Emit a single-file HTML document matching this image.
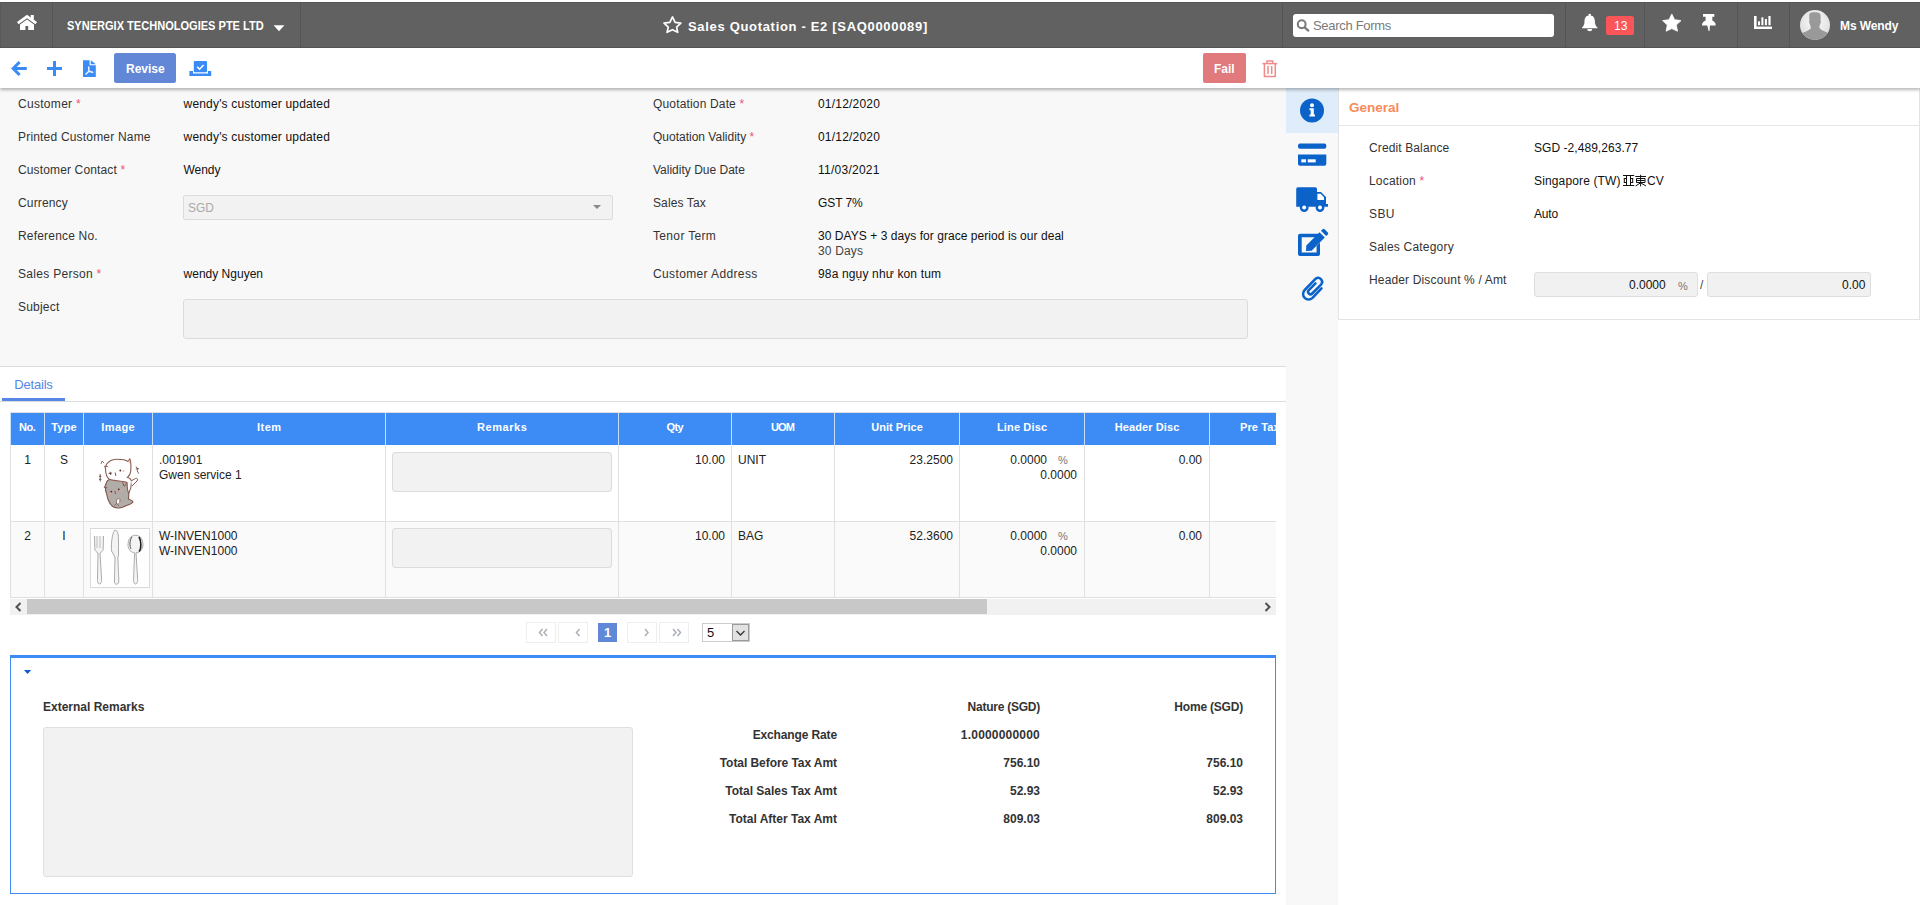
<!DOCTYPE html>
<html><head><meta charset="utf-8">
<style>
*{box-sizing:border-box;margin:0;padding:0}
html,body{width:1920px;height:905px;overflow:hidden;background:#fff;font-family:"Liberation Sans",sans-serif;font-size:12px;color:#222}
.a{position:absolute}
.t{position:absolute;white-space:nowrap;line-height:14px}
#top{position:absolute;left:0;top:2px;width:1920px;height:46px;background:#616161;border-top:1px solid #555;border-bottom:1px solid #555;border-left:1px solid #595959}
.sep{position:absolute;top:0;width:1px;height:45px;background:#545454}
#tb{position:absolute;left:0;top:48px;width:1920px;height:40px;background:#fff;box-shadow:0 2px 3px rgba(0,0,0,.28);z-index:2}
#form{position:absolute;left:0;top:88px;width:1286px;height:279px;background:#f8f8f8;border-bottom:1px solid #ddd}
.lbl{position:absolute;white-space:nowrap;color:#333;line-height:14px}
.val{position:absolute;white-space:nowrap;color:#111;line-height:14px}
.req{color:#f0527a}
#side{position:absolute;left:1286px;top:88px;width:52px;height:817px;background:#f8f8f8}
#rp{position:absolute;left:1338px;top:88px;width:582px;height:232px;background:#fff;border:1px solid #e3e3e3;border-top:none}
.th{position:absolute;top:413px;height:32px;background:#3d8cf5;color:#fff;font-weight:bold;text-align:center;line-height:28px;border-right:1px solid #8dbbf7}
.vl{position:absolute;width:1px;background:#e0e0e0}
.hl{position:absolute;height:1px;background:#e0e0e0}
.b{font-weight:bold;color:#333}
</style></head><body>

<!-- TOP BAR -->
<div id="top">
  <div class="sep" style="left:51px"></div>
  <div class="sep" style="left:299px"></div>
  <div class="sep" style="left:1281px"></div>
  <div class="sep" style="left:1564px"></div>
  <div class="sep" style="left:1643px"></div>
  <div class="sep" style="left:1736px"></div>
  <div class="sep" style="left:1788px"></div>
</div>
<svg class="a" style="left:0;top:0" width="1920" height="48" viewBox="0 0 1920 48">
  <!-- home -->
  <g fill="#fff">
    <path d="M17 22 L27 14.8 L37 22 L35.4 24.2 L27 18.3 L18.6 24.2 Z"/>
    <rect x="30.7" y="15" width="3.1" height="4.6"/>
    <path d="M20 24.6 L27 19.5 L34 24.6 L34 30 L28.2 30 L28.2 26 L25.4 26 L25.4 30 L20 30 Z"/>
  </g>
  <!-- caret -->
  <path d="M273.6 25.2 L284.4 25.2 L279 31.2 Z" fill="#fff"/>
  <!-- star outline -->
  <path d="M672.5 16.9 L675.1 22.3 L680.8 23.1 L676.6 27.1 L677.7 32.3 L672.5 29.7 L667.1 32.3 L668.3 27.1 L664 23.1 L669.8 22.3 Z" fill="none" stroke="#fff" stroke-width="1.7" stroke-linejoin="round"/>
  <!-- search box -->
  <rect x="1293" y="14" width="261" height="23" rx="3" fill="#fff"/>
  <circle cx="1301.7" cy="24.2" r="3.9" fill="none" stroke="#7c7c7c" stroke-width="2.1"/>
  <path d="M1304.9 27.6 L1308.3 30.6" stroke="#7c7c7c" stroke-width="2.3" stroke-linecap="round"/>
  <!-- bell -->
  <g fill="#fff">
    <circle cx="1589.7" cy="15" r="1.3"/>
    <path d="M1589.7 15.4 C1585 15.4 1584.5 19 1584.5 22 C1584.5 25 1583 26.5 1582 27.6 L1582 28.3 L1597.5 28.3 L1597.5 27.6 C1596.4 26.5 1594.9 25 1594.9 22 C1594.9 19 1594.4 15.4 1589.7 15.4 Z"/>
    <path d="M1587.2 29.1 L1592.2 29.1 C1592.2 30.5 1591 31.3 1589.7 31.3 C1588.4 31.3 1587.2 30.5 1587.2 29.1 Z"/>
  </g>
  <rect x="1606" y="16" width="28" height="19" rx="2.5" fill="#fa5558"/>
  <!-- star solid -->
  <path d="M1671.8 14 L1674.6 19.7 L1681 20.6 L1676.3 25 L1677.5 31.2 L1671.8 28.6 L1666.1 31.2 L1667.3 25 L1662.6 20.6 L1669 19.7 Z" fill="#fff" stroke="#fff" stroke-width="0.8" stroke-linejoin="round"/>
  <!-- pin -->
  <path d="M1703 14 L1714.3 14 L1714.3 16.7 L1712.3 16.7 L1712.3 20.5 C1714 21.5 1715.7 22.5 1715.7 25.5 L1709.9 25.5 L1709.6 31 L1708.6 31 L1707.3 25.5 L1702 25.5 C1702 22.5 1703.7 21.5 1705.6 20.5 L1705.6 16.7 L1703 16.7 Z" fill="#fff"/>
  <!-- chart -->
  <g fill="#fff">
    <rect x="1754" y="16" width="2.6" height="13"/>
    <rect x="1754" y="26.6" width="18" height="2.4"/>
    <rect x="1758" y="21.3" width="2" height="3.9"/>
    <rect x="1761.4" y="17.3" width="2" height="7.9"/>
    <rect x="1764.9" y="19" width="2" height="6.2"/>
    <rect x="1768.4" y="16" width="2.2" height="9.2"/>
  </g>
  <!-- avatar -->
  <defs>
    <radialGradient id="avg" cx="0.5" cy="0.4" r="0.6"><stop offset="0" stop-color="#fafafa"/><stop offset="1" stop-color="#dedede"/></radialGradient>
    <clipPath id="avc"><circle cx="1815" cy="25" r="15"/></clipPath>
  </defs>
  <circle cx="1815" cy="25" r="15" fill="url(#avg)"/>
  <g clip-path="url(#avc)" fill="#999">
    <path d="M1809.2 14.5 C1810 12.2 1813 12.2 1815 12.2 C1818.5 12.2 1820.6 13 1820.6 16 L1820.6 21 C1821.2 21.5 1821 22.5 1820.5 23 C1819.8 25 1819.3 26.5 1819.3 27.5 C1821 30.6 1825 31.5 1827.5 32.8 L1831 40 L1799 40 L1802.5 32.8 C1805.5 31.5 1809 30.5 1810.8 28.2 C1810.8 26.5 1810.2 25 1809.5 23 C1809 22.5 1808.8 21.5 1809.4 21 Z"/>
  </g>
</svg>
<div class="t" style="left:67px;top:19px;color:#fff;font-weight:bold;font-size:12px;transform-origin:0 0;transform:scaleX(0.92)">SYNERGIX TECHNOLOGIES PTE LTD</div>
<div class="t" style="left:688px;top:19px;color:#fff;font-weight:bold;font-size:13px;line-height:16px;letter-spacing:0.68px">Sales Quotation - E2 [SAQ0000089]</div>
<div class="t" style="left:1313px;top:18px;color:#7a7a7a;font-size:13px;line-height:15px;letter-spacing:-0.3px">Search Forms</div>
<div class="t" style="left:1614px;top:18.5px;color:#fff;font-size:12px">13</div>
<div class="t" style="letter-spacing:-0.1px;left:1840px;top:19px;color:#fff;font-weight:bold;font-size:12px">Ms Wendy</div>

<!-- TOOLBAR -->
<div id="tb">
<svg class="a" style="left:0;top:0" width="1920" height="40" viewBox="0 48 1920 40">
  <g stroke="#3b8bf6" stroke-width="3" fill="none">
    <path d="M19.6 62 L13.2 68.5 L19.6 75"/>
    <path d="M13.5 68.5 L26.8 68.5"/>
    <path d="M54.5 61 L54.5 76 M47 68.5 L62 68.5"/>
  </g>
  <!-- pdf -->
  <path d="M83 60.2 L89.6 60.2 L89.6 65.2 L95.8 65.2 L95.8 77 L83 77 Z" fill="#3b8bf6"/>
  <path d="M90.8 60.2 L95.8 64.2 L90.8 64.2 Z" fill="#3b8bf6"/>
  <path d="M88.7 66.5 L88.9 71.2 M88.9 71.2 L85.5 74.5 M88.9 71.2 L93.3 72.5" stroke="#eef3ff" stroke-width="1.5" fill="none"/>
  <!-- revise -->
  <rect x="114" y="53" width="62" height="30" rx="2.5" fill="#6287d6"/>
  <!-- tray check -->
  <rect x="193.8" y="61" width="13.2" height="11.3" rx="1" fill="#3b8bf6"/>
  <path d="M197.2 66.8 L199.6 69.2 L203.6 65" stroke="#fff" stroke-width="1.6" fill="none"/>
  <path d="M189.4 71 L193 71 L193 73.4 L208 73.4 L208 71 L211.2 71 L211.2 76 L189.4 76 Z" fill="#3b8bf6"/>
  <!-- fail -->
  <rect x="1203" y="53" width="43" height="30" rx="2" fill="#e07a7d"/>
  <!-- trash -->
  <g fill="none" stroke="#f08a8a" stroke-width="1.5">
    <path d="M1262.5 63.6 L1277.2 63.6"/>
    <path d="M1267 63.3 L1267 61 L1272.7 61 L1272.7 63.3"/>
    <path d="M1264.4 64 L1264.4 76.4 L1275.3 76.4 L1275.3 64"/>
    <path d="M1268 66 L1268 74 M1271.7 66 L1271.7 74"/>
  </g>
</svg>
<div class="t" style="left:126px;top:14px;color:#fff;font-weight:bold;font-size:12px;line-height:15px">Revise</div>
<div class="t" style="left:1214px;top:14px;color:#fff;font-weight:bold;font-size:12px">Fail</div>
</div>


<!-- FORM -->
<div id="form"></div>
<div class="lbl" style="letter-spacing:0.3px;left:18px;top:97px">Customer <span class="req">*</span></div>
<div class="val" style="letter-spacing:0.17px;left:183.6px;top:97px">wendy's customer updated</div>
<div class="lbl" style="letter-spacing:0.19px;left:18px;top:130px">Printed Customer Name</div>
<div class="val" style="letter-spacing:0.17px;left:183.6px;top:130px">wendy's customer updated</div>
<div class="lbl" style="letter-spacing:0.14px;left:18px;top:163px">Customer Contact <span class="req">*</span></div>
<div class="val" style="letter-spacing:-0.08px;left:183.6px;top:163px">Wendy</div>
<div class="lbl" style="letter-spacing:0.15px;left:18px;top:196px">Currency</div>
<div class="a" style="left:183px;top:195px;width:430px;height:25px;background:#f2f2f2;border:1px solid #dcdcdc;border-radius:2px"></div>
<div class="t" style="left:188px;top:201px;color:#aaa">SGD</div>
<svg class="a" style="left:592px;top:204px" width="10" height="6"><path d="M1 1 L9 1 L5 5 Z" fill="#888"/></svg>
<div class="lbl" style="letter-spacing:0.19px;left:18px;top:229px">Reference No.</div>
<div class="lbl" style="letter-spacing:0.3px;left:18px;top:267px">Sales Person <span class="req">*</span></div>
<div class="val" style="left:183.6px;top:267px">wendy Nguyen</div>
<div class="lbl" style="letter-spacing:0.2px;left:18px;top:300px">Subject</div>
<div class="a" style="left:183px;top:299px;width:1065px;height:40px;background:#f2f2f2;border:1px solid #dcdcdc;border-radius:3px"></div>
<div class="lbl" style="letter-spacing:0.16px;left:653px;top:97px">Quotation Date <span class="req">*</span></div>
<div class="val" style="letter-spacing:0.2px;left:818px;top:97px">01/12/2020</div>
<div class="lbl" style="left:653px;top:130px">Quotation Validity <span class="req">*</span></div>
<div class="val" style="letter-spacing:0.2px;left:818px;top:130px">01/12/2020</div>
<div class="lbl" style="left:653px;top:163px">Validity Due Date</div>
<div class="val" style="letter-spacing:0.25px;left:818px;top:163px">11/03/2021</div>
<div class="lbl" style="letter-spacing:0.12px;left:653px;top:196px">Sales Tax</div>
<div class="val" style="letter-spacing:-0.1px;left:818px;top:196px">GST 7%</div>
<div class="lbl" style="letter-spacing:0.34px;left:653px;top:229px">Tenor Term</div>
<div class="val" style="letter-spacing:0.05px;left:818px;top:229px">30 DAYS + 3 days for grace period is our deal</div>
<div class="val" style="letter-spacing:0.15px;left:818px;top:244px;color:#444">30 Days</div>
<div class="lbl" style="letter-spacing:0.37px;left:653px;top:267px">Customer Address</div>
<div class="val" style="letter-spacing:0.15px;left:818px;top:267px">98a ngụy như kon tum</div>

<!-- RIGHT SIDEBAR -->
<div id="side"></div>
<div class="a" style="left:1286px;top:88px;width:52px;height:45px;background:#dfecf9"></div>
<svg class="a" style="left:1286px;top:88px" width="52" height="230" viewBox="1286 88 52 230">
  <g fill="#0b62c9">
    <circle cx="1312" cy="110.6" r="12"/>
    <rect x="1298" y="143.4" width="28.3" height="5.3" rx="2"/>
    <path d="M1298 154.5 L1326.3 154.5 L1326.3 163.8 Q1326.3 165.8 1324.3 165.8 L1300 165.8 Q1298 165.8 1298 163.8 Z"/>
    <path d="M1296.2 189 Q1296.2 187.2 1298 187.2 L1315.3 187.2 Q1317 187.2 1317 189 L1317 192 L1321 192 L1326 197 L1326 204 L1328 204 L1328 206.7 L1296.2 206.7 Z"/>
    <circle cx="1304.2" cy="207.6" r="4.4"/>
    <circle cx="1320" cy="207.6" r="4.4"/>
    <path d="M1301.7 233.8 L1319 233.8 L1315.7 237.2 L1301.7 237.2 L1301.7 252.6 L1316.6 252.6 L1316.6 246 L1320 242.6 L1320 254 Q1320 256 1318 256 L1300 256 Q1298 256 1298 254 L1298 235.8 Q1298 233.8 1300 233.8 Z"/>
    <path d="M1306 251 L1306.3 245.5 L1319.5 232.3 L1324.8 237.6 L1311.6 250.8 Z"/>
    <path d="M1321 230.8 L1322.6 229.2 Q1323.6 228.2 1324.6 229.2 L1327.8 232.4 Q1328.8 233.4 1327.8 234.4 L1326.2 236 Z"/>
  </g>
  <g fill="#fff">
    <circle cx="1312" cy="105.3" r="2"/>
    <path d="M1309.5 108.2 L1313.8 108.2 L1313.8 114.5 L1315 114.5 L1315 116.5 L1309.5 116.5 L1309.5 114.5 L1310.7 114.5 L1310.7 110.2 L1309.5 110.2 Z"/>
    <rect x="1301.3" y="159.3" width="4.7" height="3.1"/>
    <rect x="1307.7" y="159.3" width="8" height="3.1"/>
    <path d="M1317.4 193.8 L1320.6 193.8 L1324 197.2 L1324 200 L1317.4 200 Z"/>
    <circle cx="1304.2" cy="207.6" r="2"/>
    <circle cx="1320" cy="207.6" r="2"/>
  </g>
  <path d="M1321.5 288.3 L1312.5 297.8 A5.5 5.5 0 0 1 1304.7 290 L1315.7 278.7 A4 4 0 0 1 1321.3 284.3 L1312.2 293.5 A2.37 2.37 0 0 1 1308.8 290.1 L1315.5 283.4" fill="none" stroke="#0b62c9" stroke-width="2.5" stroke-linecap="round" stroke-linejoin="round"/>
</svg>

<!-- RIGHT PANEL -->
<div id="rp"></div>
<div class="a" style="left:1339px;top:125px;width:581px;height:1px;background:#e6e6e6"></div>
<div class="t" style="left:1349px;top:99.5px;color:#f98b5b;font-weight:bold;font-size:13.5px;line-height:16px">General</div>
<div class="lbl" style="letter-spacing:0.12px;left:1369px;top:141px">Credit Balance</div>
<div class="val" style="letter-spacing:0.05px;left:1534px;top:141px">SGD -2,489,263.77</div>
<div class="lbl" style="letter-spacing:0.19px;left:1369px;top:174px">Location <span class="req">*</span></div>
<div class="val" style="left:1534px;top:174px;letter-spacing:0.14px">Singapore (TW)</div>
<svg class="a" style="left:1622px;top:174px" width="26" height="13" viewBox="1622 174 26 13"><g stroke="#111" stroke-width="1" fill="none">
<path d="M1623 175.5 H1634.2 M1623 185.5 H1634.2 M1626.5 175.8 V185.2 M1630.5 175.8 V185.2 M1623.8 178.5 H1626.3 M1624.3 178.5 V182.5 M1623.8 182.5 H1626.3 M1630.7 178.5 H1633.2 M1632.7 178.5 V182.5 M1630.7 182.5 H1633.2"/>
<path d="M1635.3 176.5 H1646 M1640.6 174.8 V186.3 M1636.5 178.5 H1645 V182.5 H1636.5 Z M1636.8 180.5 H1644.7 M1640.3 183 L1635.6 186 M1641 183 L1646 186"/>
</g></svg>
<div class="val" style="left:1647px;top:174px">CV</div>
<div class="lbl" style="letter-spacing:0.4px;left:1369px;top:207px">SBU</div>
<div class="val" style="letter-spacing:-0.2px;left:1534px;top:207px">Auto</div>
<div class="lbl" style="letter-spacing:0.2px;left:1369px;top:240px">Sales Category</div>
<div class="lbl" style="letter-spacing:0.15px;left:1369px;top:273px">Header Discount % / Amt</div>
<div class="a" style="left:1534px;top:272px;width:164px;height:25px;background:#f1f1f1;border:1px solid #dedede;border-radius:3px"></div>
<div class="a" style="left:1707px;top:272px;width:164px;height:25px;background:#f1f1f1;border:1px solid #dedede;border-radius:3px"></div>
<div class="val" style="left:1629px;top:278px">0.0000</div>
<div class="t" style="left:1678px;top:279px;color:#777;font-size:11px">%</div>
<div class="val" style="left:1700px;top:278px;color:#444">/</div>
<div class="val" style="left:1842px;top:278px">0.00</div>


<!-- DETAILS TAB -->
<div class="t" style="letter-spacing:-0.2px;left:14.3px;top:377px;color:#5686e8;font-size:13px;line-height:15px">Details</div>
<div class="a" style="left:0;top:401px;width:1286px;height:1px;background:#dcdcdc"></div>
<div class="a" style="left:2px;top:398px;width:63px;height:3px;background:#5787e6"></div>

<!-- TABLE -->
<div class="a" style="left:10px;top:412px;width:1266px;height:186px;overflow:hidden">

<div class="a" style="left:0;top:0;width:1330px;height:1px;background:#e0e0e0"></div>
<div class="a" style="left:1px;top:1px;width:1330px;height:32px;background:#3d8cf5"></div>
<div class="a" style="left:1px;top:33px;width:1330px;height:76px;background:#fff"></div>
<div class="a" style="left:1px;top:110px;width:1330px;height:75px;background:#fafafa"></div>
<div class="a" style="left:0;top:109px;width:1330px;height:1px;background:#e0e0e0"></div>
<div class="a" style="left:0;top:185px;width:1330px;height:1px;background:#e0e0e0"></div>
<div class="a" style="left:0px;top:1px;width:1px;height:32px;background:#c9dffc"></div>
<div class="a" style="left:0px;top:33px;width:1px;height:153px;background:#e0e0e0"></div>
<div class="a" style="left:34px;top:1px;width:1px;height:32px;background:#c9dffc"></div>
<div class="a" style="left:34px;top:33px;width:1px;height:153px;background:#e0e0e0"></div>
<div class="a" style="left:73px;top:1px;width:1px;height:32px;background:#c9dffc"></div>
<div class="a" style="left:73px;top:33px;width:1px;height:153px;background:#e0e0e0"></div>
<div class="a" style="left:142px;top:1px;width:1px;height:32px;background:#c9dffc"></div>
<div class="a" style="left:142px;top:33px;width:1px;height:153px;background:#e0e0e0"></div>
<div class="a" style="left:375px;top:1px;width:1px;height:32px;background:#c9dffc"></div>
<div class="a" style="left:375px;top:33px;width:1px;height:153px;background:#e0e0e0"></div>
<div class="a" style="left:608px;top:1px;width:1px;height:32px;background:#c9dffc"></div>
<div class="a" style="left:608px;top:33px;width:1px;height:153px;background:#e0e0e0"></div>
<div class="a" style="left:721px;top:1px;width:1px;height:32px;background:#c9dffc"></div>
<div class="a" style="left:721px;top:33px;width:1px;height:153px;background:#e0e0e0"></div>
<div class="a" style="left:824px;top:1px;width:1px;height:32px;background:#c9dffc"></div>
<div class="a" style="left:824px;top:33px;width:1px;height:153px;background:#e0e0e0"></div>
<div class="a" style="left:949px;top:1px;width:1px;height:32px;background:#c9dffc"></div>
<div class="a" style="left:949px;top:33px;width:1px;height:153px;background:#e0e0e0"></div>
<div class="a" style="left:1074px;top:1px;width:1px;height:32px;background:#c9dffc"></div>
<div class="a" style="left:1074px;top:33px;width:1px;height:153px;background:#e0e0e0"></div>
<div class="a" style="left:1199px;top:1px;width:1px;height:32px;background:#c9dffc"></div>
<div class="a" style="left:1199px;top:33px;width:1px;height:153px;background:#e0e0e0"></div>
<div class="a" style="left:1324px;top:1px;width:1px;height:32px;background:#c9dffc"></div>
<div class="a" style="left:1324px;top:33px;width:1px;height:153px;background:#e0e0e0"></div>
<div class="t" style="left:1px;top:8px;width:33px;text-align:center;color:#fff;font-weight:bold;font-size:11px;letter-spacing:-0.43px;text-indent:-0.43px">No.</div>
<div class="t" style="left:35px;top:8px;width:38px;text-align:center;color:#fff;font-weight:bold;font-size:11px;letter-spacing:0.19px;text-indent:0.19px">Type</div>
<div class="t" style="left:74px;top:8px;width:68px;text-align:center;color:#fff;font-weight:bold;font-size:11px;letter-spacing:0.4px;text-indent:0.4px">Image</div>
<div class="t" style="left:143px;top:8px;width:232px;text-align:center;color:#fff;font-weight:bold;font-size:11px;letter-spacing:0.48px;text-indent:0.48px">Item</div>
<div class="t" style="left:376px;top:8px;width:232px;text-align:center;color:#fff;font-weight:bold;font-size:11px;letter-spacing:0.55px;text-indent:0.55px">Remarks</div>
<div class="t" style="left:609px;top:8px;width:112px;text-align:center;color:#fff;font-weight:bold;font-size:11px;letter-spacing:-0.66px;text-indent:-0.66px">Qty</div>
<div class="t" style="left:722px;top:8px;width:102px;text-align:center;color:#fff;font-weight:bold;font-size:11px;letter-spacing:-0.9px;text-indent:-0.9px">UOM</div>
<div class="t" style="left:825px;top:8px;width:124px;text-align:center;color:#fff;font-weight:bold;font-size:11px;letter-spacing:0.02px;text-indent:0.02px">Unit Price</div>
<div class="t" style="left:950px;top:8px;width:124px;text-align:center;color:#fff;font-weight:bold;font-size:11px;letter-spacing:0.16px;text-indent:0.16px">Line Disc</div>
<div class="t" style="left:1075px;top:8px;width:124px;text-align:center;color:#fff;font-weight:bold;font-size:11px;letter-spacing:0.1px;text-indent:0.1px">Header Disc</div>
<div class="t" style="left:1200px;top:8px;width:124px;text-align:center;color:#fff;font-weight:bold;font-size:11px;letter-spacing:0.1px;text-indent:0.1px">Pre Tax Amt</div>
<div class="t" style="left:1px;width:33px;text-align:center;top:41px">1</div>
<div class="t" style="left:35px;width:38px;text-align:center;top:41px">S</div>
<div class="t" style="left:149px;top:41px;">.001901</div>
<div class="t" style="left:149px;top:56px;">Gwen service 1</div>
<div class="t" style="right:551px;top:41px;">10.00</div>
<div class="t" style="left:728px;top:41px;">UNIT</div>
<div class="t" style="right:323px;top:41px;">23.2500</div>
<div class="t" style="right:229px;top:41px;">0.0000</div>
<div class="t" style="left:1048px;top:41px;color:#777;font-size:11px">%</div>
<div class="t" style="right:199px;top:56px;">0.0000</div>
<div class="t" style="right:74px;top:41px;">0.00</div>
<div class="a" style="left:382px;top:40px;width:220px;height:40px;background:#f2f2f2;border:1px solid #dcdcdc;border-radius:3px"></div>
<div class="t" style="left:1px;width:33px;text-align:center;top:117px">2</div>
<div class="t" style="left:35px;width:38px;text-align:center;top:117px">I</div>
<div class="t" style="left:149px;top:117px;">W-INVEN1000</div>
<div class="t" style="left:149px;top:132px;">W-INVEN1000</div>
<div class="t" style="right:551px;top:117px;">10.00</div>
<div class="t" style="left:728px;top:117px;">BAG</div>
<div class="t" style="right:323px;top:117px;">52.3600</div>
<div class="t" style="right:229px;top:117px;">0.0000</div>
<div class="t" style="left:1048px;top:117px;color:#777;font-size:11px">%</div>
<div class="t" style="right:199px;top:132px;">0.0000</div>
<div class="t" style="right:74px;top:117px;">0.00</div>
<div class="a" style="left:382px;top:116px;width:220px;height:40px;background:#f2f2f2;border:1px solid #dcdcdc;border-radius:3px"></div>
<svg class="a" style="left:78px;top:40px" width="64" height="140" viewBox="88 452 64 140">
  <g stroke="#8d6a5e" stroke-width="0.9" fill="none">
    <path d="M101 464 L102 461 L104 463" fill="#fff"/>
  </g>
  <!-- gray cat -->
  <path d="M107.5 480.5 C105 484 104.8 489 106.5 493.5 C107.5 499 109.5 505 114 507.3 C118 508.5 123.5 507.5 126.5 505.5 C129 504.5 131.5 504 133 502 C132.5 500 130 499.5 128.5 499 C128.5 495 129.5 490 128.5 486 C127.5 482 124 479.5 118 479 C113 478.8 109.5 479 107.5 480.5 Z" fill="#b2aca8" stroke="#7e5548" stroke-width="1.1"/>
  <path d="M106 484.5 L104.2 487.3 L107.2 487.8" fill="#b2aca8" stroke="#7e5548" stroke-width="1"/>
  <path d="M122.5 482.5 L124.3 486.3 L127.2 483" fill="#b2aca8" stroke="#7e5548" stroke-width="1"/>
  <!-- white cat -->
  <path d="M105.5 470 C104.5 464 110 459.3 117 459.3 C121.5 459.3 126 460 128 461.5 L129.8 459 C130.8 461 131 464 130.9 468.5 C131 472 129.5 475.5 127.5 477.5 C129.5 478 131.5 479.5 131.5 482 C131.5 486 130.5 490 128.8 493 C127 491 127.5 487 127 482.5 C121 480.5 112 481 109 479 C106.5 477 105.8 474 105.5 470 Z" fill="#fff" stroke="#8a5d50" stroke-width="1.1"/>
  <path d="M105.8 468.5 L104.5 466.3 L107.8 466.6" fill="#fff" stroke="#8a5d50" stroke-width="1"/>
  <path d="M131 481 L135.5 478.5 C137.5 478 138.3 479.5 137 481 L132 486" fill="#fff" stroke="#8a5d50" stroke-width="1"/>
  <path d="M127.6 461.6 L129.6 460.3 L129.6 463.6 Z" fill="#f2aea0"/>
  <g fill="#4a2c24">
    <circle cx="120.3" cy="470.5" r="0.9"/>
    <circle cx="111.3" cy="491.6" r="0.9"/>
    <circle cx="118.8" cy="489.3" r="0.9"/>
  </g>
  <path d="M108.6 473.6 L112 473 M110 471.8 L110.8 475" stroke="#4a2c24" stroke-width="0.8"/>
  <path d="M115.2 472.5 L115.8 475.8" stroke="#b84a40" stroke-width="1.1"/>
  <path d="M114.9 491 L115.6 494" stroke="#b84a40" stroke-width="1.1"/>
  <circle cx="123.4" cy="471" r="1.1" fill="#f8beb2"/>
  <circle cx="121.4" cy="490.4" r="1.1" fill="#f2a090"/>
  <circle cx="109.6" cy="493.8" r="1.1" fill="#f2a090"/>
  <path d="M116.5 503.5 C116 500.5 117 498.5 118.5 498.5 C120 498.5 120.5 500.5 119.5 502.5" stroke="#8a5d50" stroke-width="0.9" fill="#fff"/>
  <path d="M113.8 506.5 L116.5 503.5 L119 506" stroke="#8a5d50" stroke-width="0.8" fill="none"/>
  <g stroke="#5a3a30" stroke-width="0.8" fill="none">
    <path d="M100.2 474 L100.2 481.5 M99 476.3 L101.4 476.3 M99 479.3 L101.4 479.3"/>
    <path d="M136 466.5 L138 469.5 L137 470.3 L138.6 473.5 M135.8 469 L138.8 468.5"/>
  </g>
  <!-- cutlery -->
  <rect x="90.5" y="528.5" width="59" height="59" fill="#fff" stroke="#dadada" stroke-width="1"/>
  <g fill="#f4f4f4" stroke="#8a8a8a" stroke-width="0.7">
    <path d="M94.5 536 L94.8 549 C95 551 97 552.5 98 553 L97.5 578 C97.3 582 98 584 99.5 584 C101 584 101.8 582 101.5 578 L100 553 C101 552.5 103 551 103.2 549 L103.5 536"/>
    <path d="M111.5 551 C111 545 111.8 535 114.5 530.3 C117 530 118.5 532 118.5 540 L118.5 556 L117.8 557 L118.8 580 C119 583 118 584.2 116.6 584.2 C115 584.2 114 583 114.5 580 L115 557 Z"/>
    <path d="M135.5 535.3 C130 535.5 128 540 128 545 C128 550 131.5 552.5 134.6 552.8 L133.6 578 C133.4 582 134.2 584 135.6 584 C137 584 137.8 582 137.6 578 L136 552.8 C139.5 552.5 143 550 143 545 C143 540 141 535.3 135.5 535.3 Z"/>
  </g>
  <path d="M139 537 C141.5 541 141.5 549 139 551.5" stroke="#222" stroke-width="1.6" fill="none"/>
  <path d="M132 537 C129.5 540 129.5 546 131 549" stroke="#555" stroke-width="1" fill="none"/>
  <path d="M97 536 L97 548 M100 536 L100 548" stroke="#9a9a9a" stroke-width="0.6"/>
</svg>
</div>

<div class="a" style="left:10px;top:599px;width:1266px;height:16px;background:#f1f1f1"></div>
<div class="a" style="left:27px;top:599px;width:960px;height:15px;background:#c8c8c8"></div>
<svg class="a" style="left:10px;top:599px" width="1266" height="16"><path d="M10.5 4 L6.5 8 L10.5 12" stroke="#505050" stroke-width="2" fill="none"/><path d="M1255.5 4 L1259.5 8 L1255.5 12" stroke="#505050" stroke-width="2" fill="none"/></svg>

<!-- PAGINATION -->
<div class="a" style="left:526px;top:622px;width:30px;height:21px;border:1px solid #eee"></div>
<div class="a" style="left:558px;top:622px;width:30px;height:21px;border:1px solid #eee"></div>
<div class="a" style="left:598px;top:623px;width:19px;height:19px;background:#6088d6"></div>
<div class="a" style="left:627px;top:622px;width:30px;height:21px;border:1px solid #eee"></div>
<div class="a" style="left:659px;top:622px;width:30px;height:21px;border:1px solid #eee"></div>
<svg class="a" style="left:526px;top:622px" width="170" height="21" viewBox="526 622 170 21">
  <g stroke="#aab0bb" stroke-width="1.5" fill="none">
    <path d="M542.5 629 L539.5 632.5 L542.5 636 M547 629 L544 632.5 L547 636"/>
    <path d="M579.5 629 L576.5 632.5 L579.5 636"/>
    <path d="M645 629 L648 632.5 L645 636"/>
    <path d="M673 629 L676 632.5 L673 636 M677.5 629 L680.5 632.5 L677.5 636"/>
  </g>
</svg>
<div class="t" style="left:598px;top:626px;width:19px;text-align:center;color:#fff;font-weight:bold;font-size:13px;line-height:14px">1</div>
<div class="a" style="left:702px;top:623px;width:48px;height:19px;border:1px solid #ccc;background:#fff"></div>
<div class="a" style="left:732px;top:624px;width:17px;height:17px;background:#e2e2e2;border:1px solid #9a9a9a"></div>
<svg class="a" style="left:732px;top:624px" width="17" height="17"><path d="M4.5 7 L8.5 11 L12.5 7" stroke="#333" stroke-width="1.3" fill="none"/></svg>
<div class="t" style="left:707px;top:626px;color:#111;font-size:13px;line-height:14px">5</div>

<!-- BOTTOM PANEL -->
<div class="a" style="left:10px;top:655px;width:1266px;height:239px;border:1px solid #3d8cf5;border-top:3px solid #3d8cf5"></div>
<svg class="a" style="left:23px;top:669px" width="10" height="6"><path d="M1 1 L8.2 1 L4.6 5 Z" fill="#0b5fc9"/></svg>
<div class="t b" style="left:43px;top:700px">External Remarks</div>
<div class="a" style="left:43px;top:727px;width:590px;height:150px;background:#f2f2f2;border:1px solid #e0e0e0;border-radius:3px"></div>
<div class="t b" style="letter-spacing:-0.24px;right:880px;top:700px">Nature (SGD)</div>
<div class="t b" style="letter-spacing:-0.2px;right:677px;top:700px">Home (SGD)</div>
<div class="t b" style="letter-spacing:-0.13px;right:1083px;top:728px">Exchange Rate</div>
<div class="t b" style="letter-spacing:0.2px;right:880px;top:728px">1.0000000000</div>
<div class="t b" style="letter-spacing:-0.06px;right:1083px;top:756px">Total Before Tax Amt</div>
<div class="t b" style="right:880px;top:756px">756.10</div>
<div class="t b" style="right:677px;top:756px">756.10</div>
<div class="t b" style="right:1083px;top:784px">Total Sales Tax Amt</div>
<div class="t b" style="right:880px;top:784px">52.93</div>
<div class="t b" style="right:677px;top:784px">52.93</div>
<div class="t b" style="right:1083px;top:812px">Total After Tax Amt</div>
<div class="t b" style="right:880px;top:812px">809.03</div>
<div class="t b" style="right:677px;top:812px">809.03</div>

</body></html>
